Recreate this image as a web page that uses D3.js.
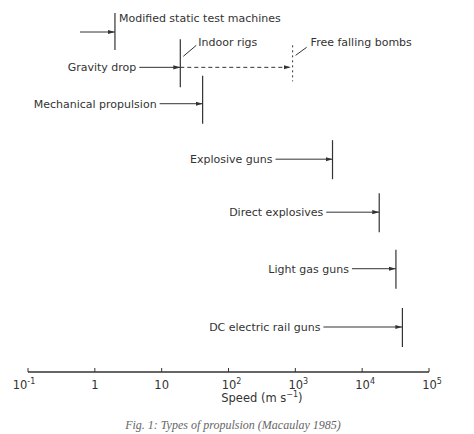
<!DOCTYPE html>
<html><head><meta charset="utf-8">
<script src="https://cdn.jsdelivr.net/npm/d3@7"></script>
<style>body{margin:0;background:#fff}</style></head>
<body><svg id="c" width="474" height="434"></svg>
<script>
const methods = ["Modified static test machines","Gravity drop","Mechanical propulsion","Explosive guns","Direct explosives","Light gas guns","DC electric rail guns"];
const maxSpeed = [2.0, 19, 41, 3600, 18000, 32000, 40000];
const rowLevel = [0, 1, 2.03, 3.6, 5.1, 6.7, 8.35];
const freeFallSpeed = 850;
const tickValues = [0.1,1,10,100,1000,10000,100000];
const tickBase = ["10","1","10","10","10","10","10"];
const tickExp = ["-1","","","2","3","4","5"];

const svg = d3.select("#c");
const ink = "#333";
const font = "DejaVu Sans, sans-serif";
const x = d3.scaleLog().domain([0.1,1e5]).range([28,429]);
const y = d3.scaleLinear().domain([0,8.35]).range([32,327]);

svg.append("defs").append("marker").attr("id","ah").attr("viewBox","0 0 10 10")
 .attr("refX",10).attr("refY",5).attr("markerWidth",7).attr("markerHeight",7).attr("orient","auto")
 .append("path").attr("d","M0,2L10,5L0,8Z").attr("fill",ink);

const ax = svg.append("g").attr("transform","translate(0,372)");
ax.append("line").attr("x1",x(0.1)).attr("x2",x(1e5)).attr("stroke",ink).attr("stroke-width",1.3);
ax.selectAll("line.t").data(tickValues).join("line").attr("class","t")
 .attr("x1",d=>x(d)).attr("x2",d=>x(d)).attr("y1",0).attr("y2",-4).attr("stroke",ink);
const tl = ax.selectAll("text").data(tickValues).join("text").attr("x",d=>x(d)+(d===0.1?-4:d>50?3:0)).attr("y",17)
 .attr("text-anchor","middle").attr("font-family",font).attr("font-size",11.5).attr("fill",ink);
tl.append("tspan").text((d,i)=>tickBase[i]);
tl.append("tspan").attr("dy",-5).attr("font-size",8).text((d,i)=>tickExp[i]);
svg.append("text").attr("x",x(316)).attr("y",402).attr("text-anchor","middle")
 .attr("font-family",font).attr("font-size",11.5).attr("fill",ink).html("Speed (m s<tspan dy='-5' font-size='8'>−1</tspan><tspan dy='5'>)</tspan>");
svg.append("text").attr("x",233).attr("y",429).attr("text-anchor","middle")
 .attr("font-family","Liberation Serif, serif").attr("font-style","italic").attr("font-size",12).attr("fill","#666")
 .text("Fig. 1: Types of propulsion (Macaulay 1985)");

methods.forEach((m,i)=>{
  const yy = y(rowLevel[i]), xe = x(maxSpeed[i]);
  const g = svg.append("g");
  const th = i<3 ? (i==0?[-19,18]:[-28,20]) : [-19,20];
  g.append("line").attr("x1",xe).attr("x2",xe).attr("y1",yy+th[0]).attr("y2",yy+th[1]).attr("stroke",ink).attr("stroke-width",1.2);
  if(i===0){
    g.append("line").attr("x1",80).attr("x2",xe).attr("y1",yy).attr("y2",yy).attr("stroke",ink).attr("marker-end","url(#ah)");
    g.append("text").attr("x",xe+4).attr("y",yy-10).attr("font-family",font).attr("font-size",11).attr("fill",ink).text(m);
  } else {
    const offsets = {1:44,2:46,3:60,4:56,5:47,6:82};
    g.append("text").attr("x",xe-offsets[i]).attr("y",yy+4).attr("text-anchor","end")
      .attr("font-family",font).attr("font-size",11).attr("fill",ink).text(m);
    g.append("line").attr("x1",xe-offsets[i]+3).attr("x2",xe).attr("y1",yy).attr("y2",yy).attr("stroke",ink).attr("marker-end","url(#ah)");
  }
  if(i===1){
    const xf = x(freeFallSpeed);
    g.append("line").attr("x1",xe).attr("x2",xf).attr("y1",yy).attr("y2",yy).attr("stroke",ink).attr("stroke-dasharray","4,3").attr("marker-end","url(#ah)");
    g.append("line").attr("x1",xf+2).attr("x2",xf+2).attr("y1",yy-22).attr("y2",yy+14).attr("stroke",ink).attr("stroke-dasharray","2,3");
    g.append("line").attr("x1",xe+3).attr("x2",xe+16).attr("y1",yy-11).attr("y2",yy-22).attr("stroke",ink);
    g.append("text").attr("x",xe+18).attr("y",yy-21).attr("font-family",font).attr("font-size",11).attr("fill",ink).text("Indoor rigs");
    g.append("line").attr("x1",xf+5).attr("x2",xf+16).attr("y1",yy-12).attr("y2",yy-20).attr("stroke",ink);
    g.append("text").attr("x",xf+20).attr("y",yy-21).attr("font-family",font).attr("font-size",11).attr("fill",ink).text("Free falling bombs");
  }
});
</script></body></html>
